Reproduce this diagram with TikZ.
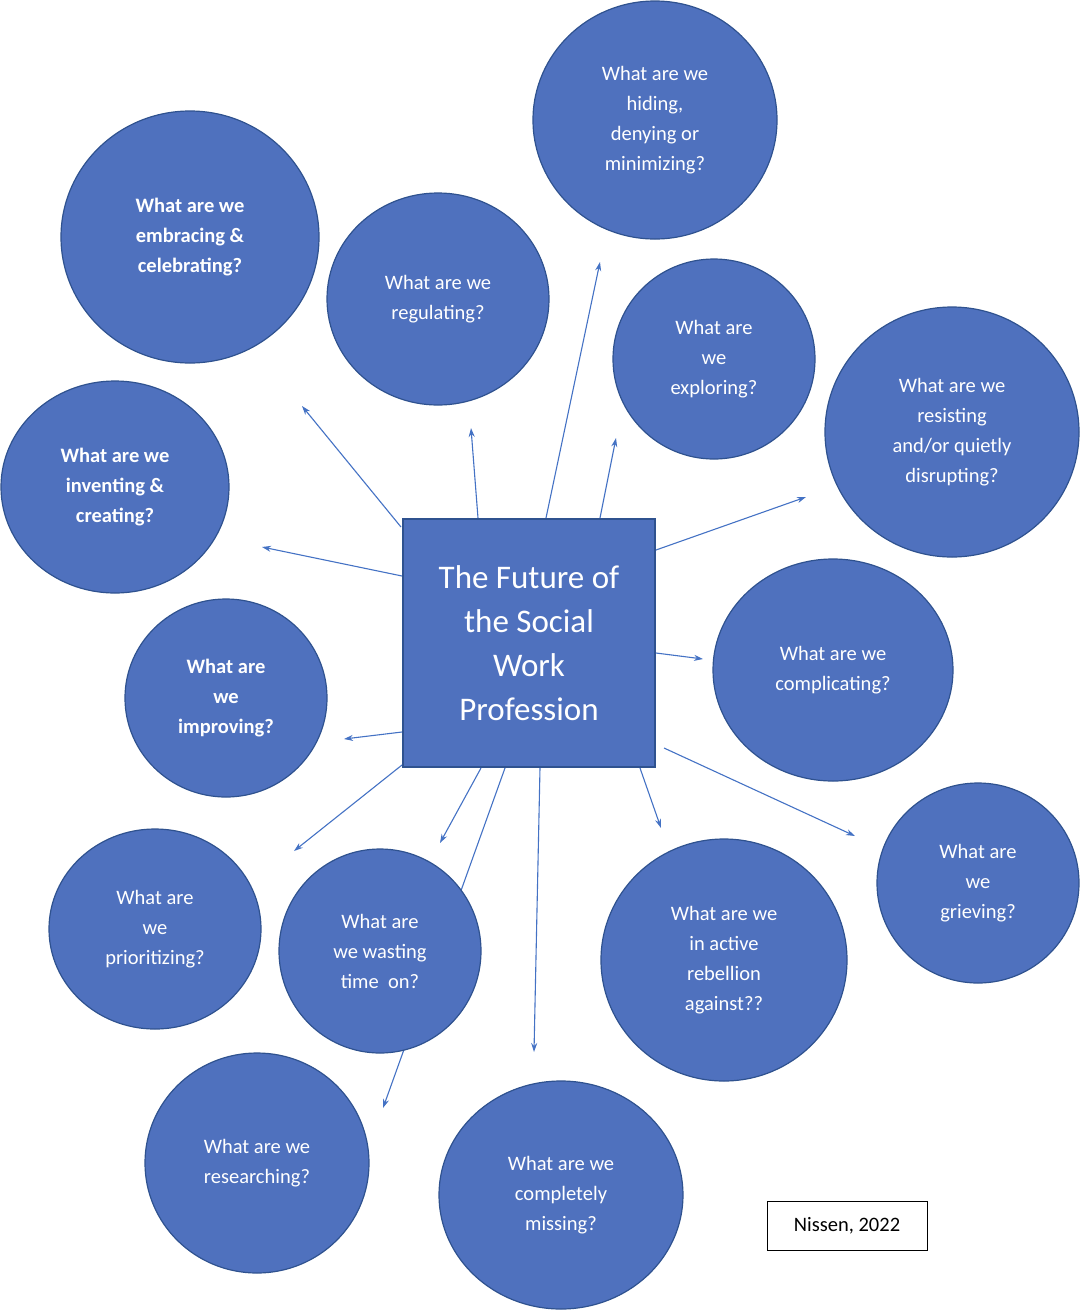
\documentclass[tikz,border=0pt]{standalone}
\usepackage{fontspec}
\setmainfont{Carlito}
\usetikzlibrary{shapes.geometric,arrows.meta}
\definecolor{fillb}{HTML}{4F71BE}
\definecolor{edgeb}{HTML}{2F528F}
\definecolor{arr}{HTML}{4472C4}
\begin{document}
\begin{tikzpicture}[x=1pt,y=-1pt,
  q/.style={ellipse,fill=fillb,draw=edgeb,line width=1.2pt,text=white,align=center,font=\fontsize{20.5}{30}\selectfont,inner sep=0pt},
  b/.style={q,font=\fontsize{20.5}{30}\selectfont\bfseries},
  ar/.style={draw=arr,line width=1.1pt,-{Stealth[length=9pt,width=6pt]}}]
\useasboundingbox (0,0) rectangle (1082,1310);
% arrows
\coordinate (e1) at (302,406);\coordinate (e2) at (471,428);\coordinate (e3) at (600,262);
\coordinate (e4) at (616,438);\coordinate (e5) at (806,497);\coordinate (e6) at (262,547);
\coordinate (e7) at (703,659);\coordinate (e8) at (344,739);\coordinate (e9) at (294,851);
\coordinate (e10) at (440,843);\coordinate (e11) at (383,1108);\coordinate (e12) at (534,1052);
\coordinate (e13) at (661,828);\coordinate (e14) at (855,836);
\coordinate (s1) at (401,527);\coordinate (s2) at (478,518);\coordinate (s3) at (546,518);
\coordinate (s4) at (600,518);\coordinate (s5) at (656,550);\coordinate (s6) at (402,576);
\coordinate (s7) at (656,653);\coordinate (s8) at (402,732);\coordinate (s9) at (402,765);
\coordinate (s10) at (481,768);\coordinate (s11) at (505,768);\coordinate (s12) at (540,768);
\coordinate (s13) at (640,768);\coordinate (s14) at (664,748);
\foreach \i in {1,...,14} \draw[ar] (s\i) -- (e\i);
% circles
\node[b,minimum width=258,minimum height=252] (c1) at (190,237) {What are we\\embracing \&\\celebrating?};
\node[q,minimum width=222,minimum height=212] (c2) at (438,299) {What are we\\regulating?};
\node[q,minimum width=244,minimum height=238] (c3) at (655,120) {What are we\\hiding,\\denying or\\minimizing?};
\node[q,minimum width=202,minimum height=200] (c4) at (714,359) {What are\\we\\exploring?};
\node[q,minimum width=254,minimum height=250] (c5) at (952,432) {What are we\\resisting\\and/or quietly\\disrupting?};
\node[b,minimum width=228,minimum height=212] (c6) at (115,487) {What are we\\inventing \&\\creating?};
\node[q,minimum width=240,minimum height=222] (c7) at (833,670) {What are we\\complicating?};
\node[b,minimum width=202,minimum height=198] (c8) at (226,698) {What are\\we\\improving?};
\node[q,minimum width=202,minimum height=200] (c9) at (978,883) {What are\\we\\grieving?};
\node[q,minimum width=212,minimum height=200] (c10) at (155,929) {What are\\we\\prioritizing?};
\node[q,minimum width=202,minimum height=204] (c11) at (380,951) {What are\\we wasting\\time~ on?};
\node[q,minimum width=246,minimum height=242] (c12) at (724,960) {What are we\\in active\\rebellion\\against??};
\node[q,minimum width=224,minimum height=220] (c13) at (257,1163) {What are we\\researching?};
\node[q,minimum width=244,minimum height=228] (c14) at (561,1195) {What are we\\completely\\missing?};
% box
\node[rectangle,fill=fillb,draw=edgeb,line width=1.2pt,text=white,align=center,minimum width=252,minimum height=248,inner sep=0pt,font=\fontsize{33}{44}\selectfont] (box) at (529,643) {The Future of\\the Social\\Work\\Profession};
\node[draw=black,line width=0.8pt,fill=white,minimum width=160,minimum height=49,font=\fontsize{20.5}{24}\selectfont] (cite) at (847,1225.5) {Nissen, 2022};
\end{tikzpicture}
\end{document}
